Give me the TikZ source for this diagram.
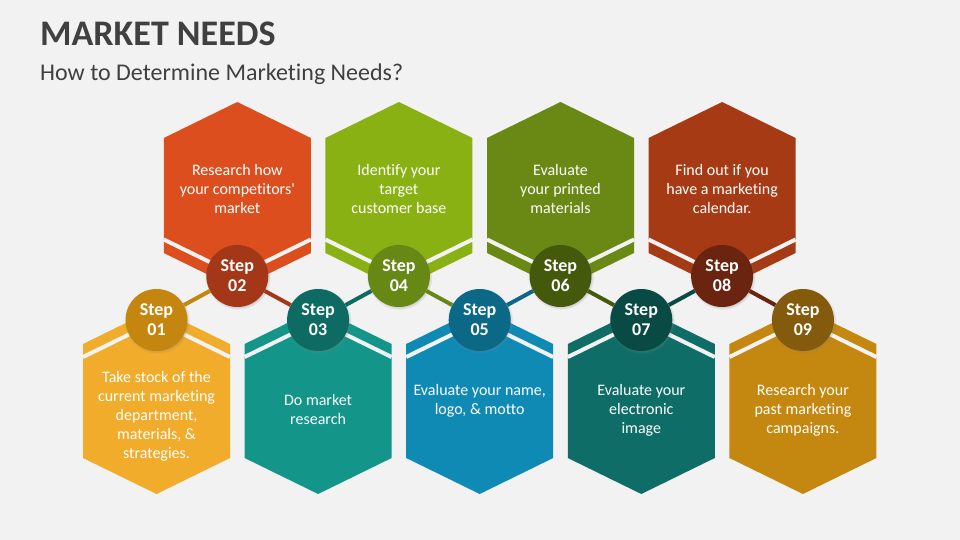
\documentclass[tikz,border=0pt]{standalone}
\usepackage{fontspec}
\setmainfont{Carlito}[Ligatures={NoCommon}]
\usetikzlibrary{shadows}
\definecolor{bgc}{HTML}{F2F2F2}
\definecolor{titlec}{HTML}{404040}
\definecolor{h1}{HTML}{F0AC2A}\definecolor{c1}{HTML}{C4860F}
\definecolor{h2}{HTML}{DC4E1D}\definecolor{c2}{HTML}{A43717}
\definecolor{h3}{HTML}{13958A}\definecolor{c3}{HTML}{0D6B63}
\definecolor{h4}{HTML}{8AB113}\definecolor{c4}{HTML}{678814}
\definecolor{h5}{HTML}{0F8AB5}\definecolor{c5}{HTML}{0B6886}
\definecolor{h6}{HTML}{698814}\definecolor{c6}{HTML}{45590C}
\definecolor{h7}{HTML}{0E6E67}\definecolor{c7}{HTML}{0A4A45}
\definecolor{h8}{HTML}{A63A14}\definecolor{c8}{HTML}{6A240F}
\definecolor{h9}{HTML}{C4870F}\definecolor{c9}{HTML}{845A0C}
\tikzset{
  stripe/.style={draw=bgc, line width=4pt},
  stepcirc/.style={circle, fill=#1, minimum size=62pt, inner sep=0pt, text=white,
    font=\bfseries\fontsize{18}{20}\selectfont, align=center,
    circular drop shadow={shadow xshift=0.6pt, shadow yshift=-0.9pt, opacity=0.45, shadow scale=1.06}},
  hextext/.style={text=white, font=\fontsize{16}{19}\selectfont, align=center, inner sep=0pt},
  link/.style={draw=#1, line width=4pt},
  titletext/.style={text=titlec, anchor=base west, inner sep=0pt},
}
\newcommand\tophex[2]{%
  \fill[#2] (#1,102) -- (#1+73.5,138) -- (#1+73.5,253) -- (#1,289) -- (#1-73.5,253) -- (#1-73.5,138) -- cycle;
  \draw[stripe] (#1-73.5,239.5) -- (#1,275.5) -- (#1+73.5,239.5);
}
\newcommand\bothex[2]{%
  \fill[#2] (#1,308) -- (#1+73.5,344) -- (#1+73.5,458) -- (#1,494) -- (#1-73.5,458) -- (#1-73.5,344) -- cycle;
  \draw[stripe] (#1-73.5,357) -- (#1,321) -- (#1+73.5,357);
}
\begin{document}
\begin{tikzpicture}[x=1pt,y=-1pt]
\fill[bgc] (0,0) rectangle (960,540);
\useasboundingbox (0,0) rectangle (960,540);

\node[titletext, font=\bfseries\fontsize{36}{40}\selectfont] (title) at (40,45.5) {MARKET NEEDS};
\node[titletext, font=\fontsize{24}{28}\selectfont] (subtitle) at (40,81) {How to Determine Marketing Needs?};

\bothex{156.5}{h1}
\tophex{237.3}{h2}
\bothex{318.1}{h3}
\tophex{398.9}{h4}
\bothex{479.7}{h5}
\tophex{560.5}{h6}
\bothex{641.3}{h7}
\tophex{722.1}{h8}
\bothex{802.9}{h9}

\node[hextext] (t2) at (237.3,189) {Research how\\your competitors\textquotesingle\\market};
\node[hextext] (t4) at (398.9,189) {Identify your\\target\\customer base};
\node[hextext] (t6) at (560.5,189) {Evaluate\\your printed\\materials};
\node[hextext] (t8) at (722.1,189) {Find out if you\\have a marketing\\calendar.};
\node[hextext] (t1) at (156.5,416) {Take stock of the\\current marketing\\department,\\materials, \&\\strategies.};
\node[hextext] (t3) at (318.1,409.5) {Do market\\research};
\node[hextext] (t5) at (479.7,401) {Evaluate your name,\\logo, \& motto};
\node[hextext] (t7) at (641.3,410) {Evaluate your\\electronic\\image};
\node[hextext] (t9) at (802.9,410) {Research your\\past marketing\\campaigns.};

\node[stepcirc=c1] (s1) at (156.5,320) {Step\\01};
\node[stepcirc=c2] (s2) at (237.3,276) {Step\\02};
\node[stepcirc=c3] (s3) at (318.1,320) {Step\\03};
\node[stepcirc=c4] (s4) at (398.9,276) {Step\\04};
\node[stepcirc=c5] (s5) at (479.7,320) {Step\\05};
\node[stepcirc=c6] (s6) at (560.5,276) {Step\\06};
\node[stepcirc=c7] (s7) at (641.3,320) {Step\\07};
\node[stepcirc=c8] (s8) at (722.1,276) {Step\\08};
\node[stepcirc=c9] (s9) at (802.9,320) {Step\\09};

\draw[link=c1] (s1) -- (s2);
\draw[link=c2] (s2) -- (s3);
\draw[link=c3] (s3) -- (s4);
\draw[link=c4] (s4) -- (s5);
\draw[link=c5] (s5) -- (s6);
\draw[link=c6] (s6) -- (s7);
\draw[link=c7] (s7) -- (s8);
\draw[link=c8] (s8) -- (s9);
\end{tikzpicture}
\end{document}
